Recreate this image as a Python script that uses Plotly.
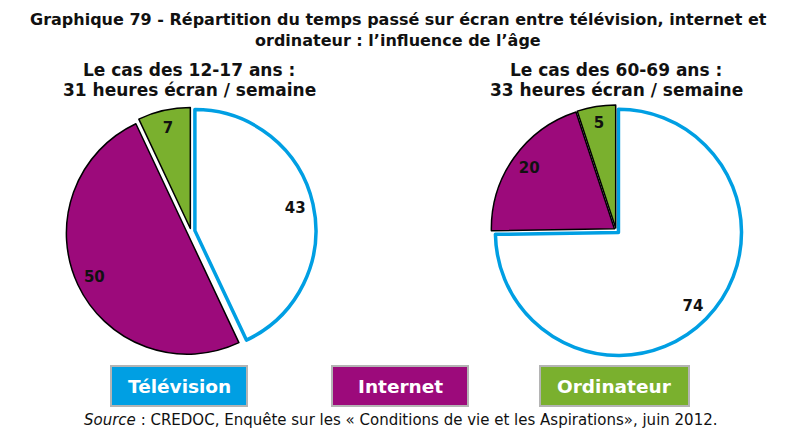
import plotly.graph_objects as go

# ---- data ----
categories = ["Télévision", "Internet", "Ordinateur"]
values_12_17 = [43, 50, 7]
values_60_69 = [74, 20, 5]
pull_12_17 = [0.033, 0.033, 0.025]
pull_60_69 = [0.028, 0.016, 0.016]
title_lines = ["Graphique 79 - Répartition du temps passé sur écran entre télévision, internet et",
               "ordinateur : l’influence de l’âge"]
subtitle_left = ["Le cas des 12-17 ans :", "31 heures écran / semaine"]
subtitle_right = ["Le cas des 60-69 ans :", "33 heures écran / semaine"]
source_text = "<i>Source</i> : CREDOC, Enquête sur les « Conditions de vie et les Aspirations», juin 2012."

# ---- style ----
cat_colors = ["#009FE3", "#9C0A7B", "#7AB02E"]
slice_fill = ["#FFFFFF", cat_colors[1], cat_colors[2]]
line_colors = [cat_colors[0], "#000000", "#000000"]
line_widths = [3.5, 1.5, 1.5]
W, H = 800, 448


def px(x):
    return x / W


def py(y):
    return 1 - y / H


fig = go.Figure()

common = dict(labels=categories, sort=False, direction="clockwise", rotation=0,
              hoverinfo="skip", showlegend=False)

domains = [dict(x=[px(66), px(316)], y=[py(356.5), py(106.5)]),
           dict(x=[px(489.5), px(742.5)], y=[py(356.5), py(103.5)])]

for vals, pulls, dom in [(values_12_17, pull_12_17, domains[0]),
                         (values_60_69, pull_60_69, domains[1])]:
    # the slices
    fig.add_trace(go.Pie(values=vals, pull=pulls, domain=dom, textinfo="none",
                         marker=dict(colors=slice_fill,
                                     line=dict(color=line_colors, width=line_widths)),
                         **common))
    # transparent ring carrying the value labels near the rim
    fig.add_trace(go.Pie(values=vals, pull=pulls, domain=dom, hole=0.7,
                         textinfo="value", textposition="inside",
                         insidetextorientation="horizontal",
                         textfont=dict(family="DejaVu Sans", size=15, color="#111111",
                                       weight="bold"),
                         marker=dict(colors=["rgba(0,0,0,0)"] * 3, line=dict(width=0)),
                         **common))

annotations = []
title_font = dict(family="DejaVu Sans", size=16, color="#111111", weight="bold")
sub_font = dict(family="DejaVu Sans", size=17, color="#111111", weight="bold")
for i, t in enumerate(title_lines):
    annotations.append(dict(text=t, x=px(398), y=py(20 + 20 * i), xref="paper", yref="paper",
                            showarrow=False, font=title_font, xanchor="center", yanchor="middle"))
for cx, lines in [(189, subtitle_left), (616, subtitle_right)]:
    for i, t in enumerate(lines):
        annotations.append(dict(text=t, x=px(cx), y=py(70 + 20 * i), xref="paper", yref="paper",
                                showarrow=False, font=sub_font, xanchor="center", yanchor="middle"))

# legend boxes
boxes = [(111, 247), (332, 468), (540, 689)]
shapes = []
for (x0, x1), name, col in zip(boxes, categories, cat_colors):
    shapes.append(dict(type="rect", xref="paper", yref="paper",
                       x0=px(x0), x1=px(x1), y0=py(406), y1=py(366),
                       fillcolor=col, line=dict(color="#B4B4B4", width=2)))
    annotations.append(dict(text=name, x=px((x0 + x1) / 2), y=py(386), xref="paper", yref="paper",
                            showarrow=False, xanchor="center", yanchor="middle",
                            font=dict(family="DejaVu Sans", size=18.5, color="white", weight="bold")))

annotations.append(dict(text=source_text, x=px(401), y=py(420), xref="paper", yref="paper",
                        showarrow=False, xanchor="center", yanchor="middle",
                        font=dict(family="DejaVu Sans", size=15, color="#111111")))

fig.update_layout(width=W, height=H, margin=dict(l=0, r=0, t=0, b=0),
                  paper_bgcolor="white", plot_bgcolor="white",
                  annotations=annotations, shapes=shapes)

fig.write_html("out.html")
